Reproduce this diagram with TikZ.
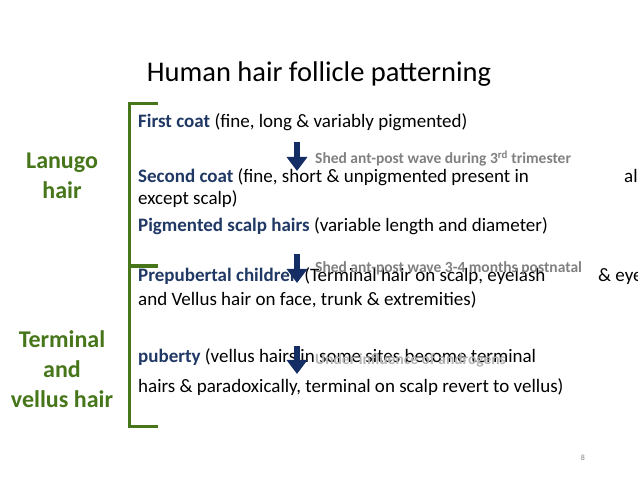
\documentclass[tikz,border=0pt]{standalone}
\usepackage{fontspec}
\setmainfont{Carlito}
\usetikzlibrary{arrows.meta}
\definecolor{navy}{RGB}{31,56,100}
\definecolor{grn}{RGB}{70,118,25}
\definecolor{gry}{RGB}{128,128,128}
\definecolor{arr}{RGB}{20,45,100}
\tikzset{
 body/.style={anchor=base west,inner sep=0pt,font=\fontsize{19}{22}\selectfont},
 lbl/.style={align=center,text=grn,font=\bfseries\fontsize{24}{30}\selectfont},
 note/.style={anchor=base west,inner sep=0pt,text=gry,font=\bfseries\fontsize{15.5}{18}\selectfont},
 brk/.style={draw=grn,line width=3pt},
 darr/.style={draw=arr,line width=6pt,-{Triangle[width=20pt,length=14pt]}},
}
\newcommand{\hb}[1]{\textbf{\color{navy}#1}}
\begin{document}
\begin{tikzpicture}[x=1pt,y=-1pt]
\useasboundingbox (0,0) rectangle (638,478);
\clip (0,0) rectangle (638,478);
\node[anchor=base,font=\fontsize{28.5}{32}\selectfont] (title) at (319,82) {Human hair follicle patterning};
% brackets
\draw[brk] (158,104) -- (129,104) -- (129,267) -- (158,267);
\draw[brk] (158,266) -- (129,266) -- (129,427) -- (158,427);
% left labels
\node[lbl] (lan) at (62,176) {Lanugo\\hair};
\node[lbl] (ter) at (62,369) {Terminal\\and\\vellus hair};
% body text
\node[body] (t1) at (138,128) {\hb{First coat} (fine, long \& variably pigmented)};
\node[body] (t2) at (138,183) {\hb{Second coat} (fine, short \& unpigmented present in};
\node[body] (t2b) at (624,183) {al};
\node[body] (t3) at (138,205) {except scalp)};
\node[body] (t4) at (138,232) {\hb{Pigmented scalp hairs} (variable length and diameter)};
\node[body] (t5) at (138,282) {\hb{Prepubertal children} (Terminal hair on scalp, eyelash};
\node[body] (t5b) at (598,282) {\& eye};
\node[body] (t6) at (138,306) {and Vellus hair on face, trunk \& extremities)};
\node[body] (t7) at (138,363) {\hb{puberty} (vellus hairs in some sites become terminal};
\node[body] (t8) at (138,393) {hairs \& paradoxically, terminal on scalp revert to vellus)};
% notes
\node[note] (n1) at (315,164) {Shed ant-post wave during 3\textsuperscript{rd} trimester};
\node[note] (n2) at (315,273) {Shed ant-post wave 3-4 months postnatal};
\node[note,text=gry!60] (n3) at (315,365) {Under influence of androgens};
% arrows
\coordinate (a1s) at (297,142); \coordinate (a1e) at (297,171);
\coordinate (a2s) at (297,254); \coordinate (a2e) at (297,283);
\coordinate (a3s) at (297,346); \coordinate (a3e) at (297,374);
\draw[darr] (a1s) -- (a1e);
\draw[darr] (a2s) -- (a2e);
\draw[darr] (a3s) -- (a3e);
\node[anchor=base,text=gry,font=\fontsize{8}{9}\selectfont] (pg) at (583,461) {8};
\end{tikzpicture}
\end{document}
